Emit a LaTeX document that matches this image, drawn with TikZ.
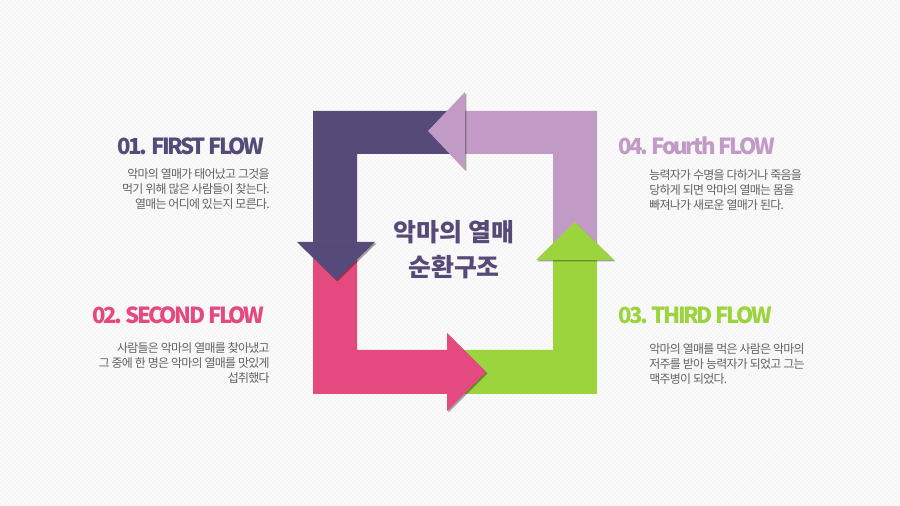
\documentclass[tikz,border=0pt]{standalone}
\usepackage{fontspec}
\setmainfont{Noto Sans CJK KR}
\newfontfamily\titlefont[LetterSpace=-11]{Noto Sans CJK KR}
\newfontfamily\bodyfont[LetterSpace=-6]{Noto Sans CJK KR}
\usepackage{tikz}
\usetikzlibrary{shadows}
\definecolor{DarkPurple}{HTML}{564A78}
\definecolor{LightPurple}{HTML}{C19AC5}
\definecolor{FlowPink}{HTML}{E44A80}
\definecolor{FlowGreen}{HTML}{9CD43E}
\definecolor{TextGrey}{HTML}{606060}
\definecolor{BackGrey}{HTML}{FBFBFB}
\definecolor{StripeGrey}{HTML}{F3F3F3}

\begin{document}
\begin{tikzpicture}[x=0.02cm, y=-0.02cm,
  title/.style={inner sep=0pt, font=\titlefont\fontsize{12.6}{15}\selectfont\bfseries},
  body/.style={inner sep=0pt, text=TextGrey, font=\bodyfont\fontsize{6.8}{8.5}\selectfont},
  headshadow/.style={drop shadow={shadow xshift=0.8pt, shadow yshift=-0.8pt, opacity=0.35, fill=black}}]

% Background with faint stripes
\fill[BackGrey] (0,0) rectangle (900,506);
\begin{scope}
\clip (0,0) rectangle (900,506);
\foreach \s in {0,4,...,1408}
  \draw[StripeGrey, line width=0.6pt] (\s-506,506) -- (\s,0);
\end{scope}

% Square frame
\def \xL {313}
\def \xl {357}
\def \xr {553}
\def \xR {597}
\def \yT {111}
\def \yt {154}
\def \yb {350}
\def \yB {394}

% dark purple body
\fill[DarkPurple] (465,\yT) -- (\xL,\yT) -- (\xL,242) -- (\xl,242) -- (\xl,\yt) -- (465,\yt) -- cycle;
% light purple body
\fill[LightPurple] (\xr,260) -- (\xR,260) -- (\xR,\yT) -- (465,\yT) -- (465,\yt) -- (\xr,\yt) -- cycle;
% green body
\fill[FlowGreen] (447,\yb) -- (\xr,\yb) -- (\xr,260) -- (\xR,260) -- (\xR,\yB) -- (447,\yB) -- cycle;
% pink body
\fill[FlowPink] (\xL,242) -- (\xl,242) -- (\xl,\yb) -- (447,\yb) -- (447,\yB) -- (\xL,\yB) -- cycle;

% Arrow heads
\fill[DarkPurple, headshadow] (297,242) -- (375,242) -- (336,280) -- cycle;
\fill[LightPurple, headshadow] (465,92) -- (465,170) -- (428,131) -- cycle;
\fill[FlowGreen, headshadow] (536,260) -- (614,260) -- (575,222) -- cycle;
\fill[FlowPink, headshadow] (447,333) -- (447,411) -- (486,372) -- cycle;

% Centre title
\node[font=\fontsize{14.2}{19.8}\selectfont\bfseries, text=DarkPurple, align=center, inner sep=0pt] (cycleTitle) at (454,250) {악마의 열매\\순환구조};

% 01
\node[title, text=DarkPurple, anchor=base east] (first) at (265,155) {01. FIRST FLOW};
\node[body, align=right, anchor=north east] (firstText) at (270,168) {악마의 열매가 태어났고 그것을\\먹기 위해 많은 사람들이 찾는다.\\열매는 어디에 있는지 모른다.};

% 02
\node[title, text=FlowPink, anchor=base east] (second) at (265,324) {02. SECOND FLOW};
\node[body, align=right, anchor=north east] (secondText) at (270,342) {사람들은 악마의 열매를 찾아냈고\\그 중에 한 명은 악마의 열매를 맛있게\\섭취했다};

% 03
\node[title, text=FlowGreen, anchor=base west] (third) at (618,324) {03. THIRD FLOW};
\node[body, align=left, anchor=north west] (thirdText) at (649,343) {악마의 열매를 먹은 사람은 악마의\\저주를 받아 능력자가 되었고 그는\\맥주병이 되었다.};

% 04
\node[title, text=LightPurple, anchor=base west] (fourth) at (618,155) {04. Fourth FLOW};
\node[body, align=left, anchor=north west] (fourthText) at (649,169) {능력자가 수명을 다하거나 죽음을\\당하게 되면 악마의 열매는 몸을\\빠져나가 새로운 열매가 된다.};

\end{tikzpicture}
\end{document}
